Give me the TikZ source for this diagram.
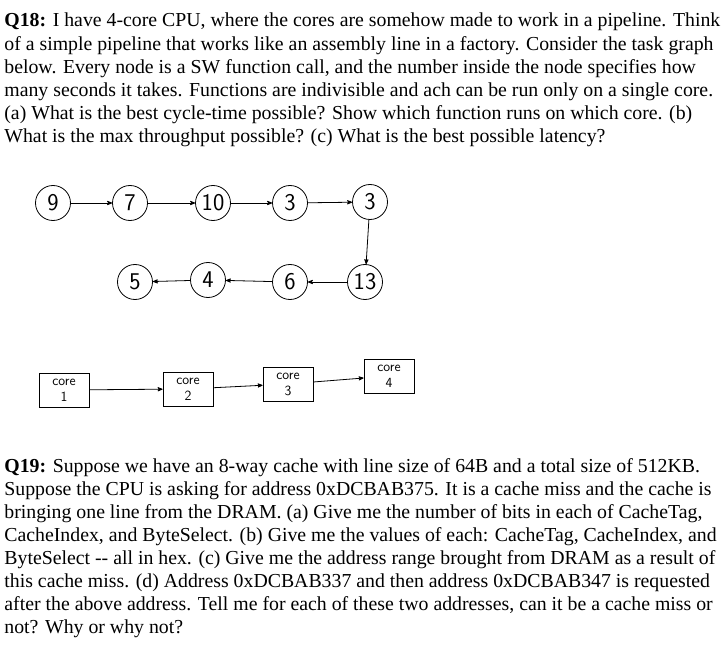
\documentclass[tikz,border=0pt]{standalone}
\usepackage{fontspec}
\setmainfont{Liberation Serif}
\usetikzlibrary{arrows}
\begin{document}
\begin{tikzpicture}[x=1pt,y=-1pt,->,>=stealth',thick,
  line/.style={anchor=base west,inner sep=0pt,font=\fontsize{19.8}{23}\selectfont},
  task node/.style={circle,draw,minimum size=35pt,inner sep=0pt,font=\fontsize{24}{24}\sffamily},
  core node/.style={draw,minimum width=50pt,minimum height=34pt,inner sep=1pt,align=center,font=\fontsize{14}{16}\sffamily}]
  \useasboundingbox (0,0) rectangle (724,650);
  % question 18
  \node[line] (l1) at (4,27) {\textbf{Q18:} I have 4-core CPU, where the cores are somehow made to work in a pipeline. Think};
  \node[line] (l2) at (4,50.2) {of a simple pipeline that works like an assembly line in a factory. Consider the task graph};
  \node[line] (l3) at (4,73.4) {below. Every node is a SW function call, and the number inside the node specifies how};
  \node[line] (l4) at (4,96.6) {many seconds it takes. Functions are indivisible and ach can be run only on a single core.};
  \node[line] (l5) at (4,119.8) {(a) What is the best cycle-time possible? Show which function runs on which core. (b)};
  \node[line] (l6) at (4,143) {What is the max throughput possible? (c) What is the best possible latency?};
  % task graph
  \node[task node] (t1) at (53,203) {9};
  \node[task node] (t2) at (130,203) {7};
  \node[task node] (t3) at (213,203) {10};
  \node[task node] (t4) at (290,203) {3};
  \node[task node] (t5) at (370,202) {3};
  \node[task node] (t6) at (365,282) {13};
  \node[task node] (t7) at (290,282) {6};
  \node[task node] (t8) at (208,280) {4};
  \node[task node] (t9) at (135,282) {5};
  \path
    (t1) edge (t2)
    (t2) edge (t3)
    (t3) edge (t4)
    (t4) edge (t5)
    (t5) edge (t6)
    (t6) edge (t7)
    (t7) edge (t8)
    (t8) edge (t9);
  % cores
  \node[core node] (c1) at (64,390) {core\\1};
  \node[core node] (c2) at (188,389) {core\\2};
  \node[core node] (c3) at (288,384) {core\\3};
  \node[core node] (c4) at (389,376) {core\\4};
  \path
    (c1) edge (c2)
    (c2) edge (c3)
    (c3) edge (c4);
  % question 19
  \node[line] (m1) at (4,472) {\textbf{Q19:} Suppose we have an 8-way cache with line size of 64B and a total size of 512KB.};
  \node[line] (m2) at (4,495) {Suppose the CPU is asking for address 0xDCBAB375. It is a cache miss and the cache is};
  \node[line] (m3) at (4,518) {bringing one line from the DRAM. (a) Give me the number of bits in each of CacheTag,};
  \node[line] (m4) at (4,541) {CacheIndex, and ByteSelect. (b) Give me the values of each: CacheTag, CacheIndex, and};
  \node[line] (m5) at (4,564) {ByteSelect {-}{-} all in hex. (c) Give me the address range brought from DRAM as a result of};
  \node[line] (m6) at (4,587) {this cache miss. (d) Address 0xDCBAB337 and then address 0xDCBAB347 is requested};
  \node[line] (m7) at (4,610) {after the above address. Tell me for each of these two addresses, can it be a cache miss or};
  \node[line] (m8) at (4,633) {not? Why or why not?};
\end{tikzpicture}
\end{document}
